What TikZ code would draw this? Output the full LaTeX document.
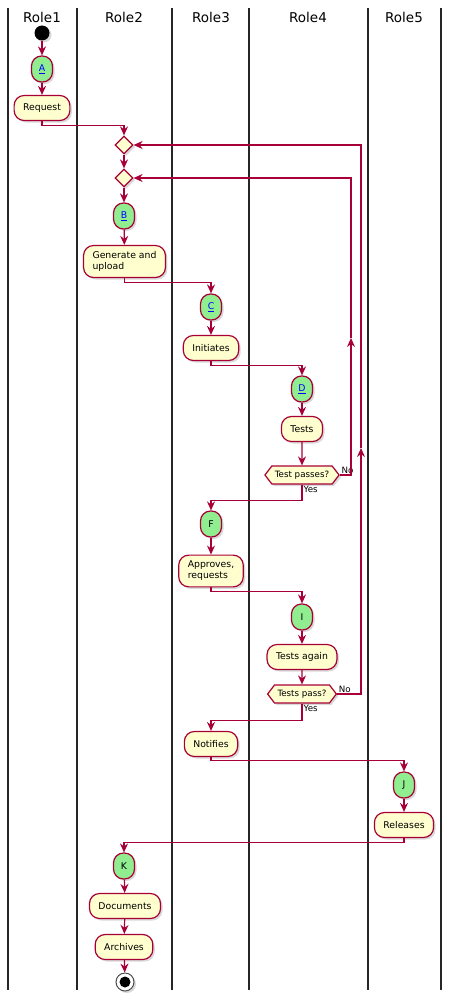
\documentclass[tikz,border=0pt]{standalone}
\usepackage{fontspec}
\setmainfont{DejaVu Sans}
\usetikzlibrary{arrows.meta,shapes.geometric,shapes.symbols,shadows}
\definecolor{umlred}{HTML}{A80036}
\definecolor{umlyellow}{HTML}{FEFECE}
\definecolor{umlgreen}{HTML}{90EE90}
\definecolor{umlblue}{HTML}{0000FF}

\begin{document}
\begin{tikzpicture}[x=1pt,y=-1pt,
		shade/.style={drop shadow={shadow xshift=2pt,shadow yshift=-2pt,opacity=0.3}},
		act/.style={draw=umlred,fill=umlyellow,line width=1.2pt,rounded corners=10pt,minimum height=25pt,inner xsep=9pt,inner ysep=6pt,align=left,font=\fontsize{9.3}{11}\selectfont,shade},
		ref/.style={act,fill=umlgreen,minimum width=21pt,minimum height=26pt,inner xsep=3pt},
		merge/.style={diamond,draw=umlred,fill=umlyellow,line width=1.2pt,minimum width=18pt,minimum height=18pt,inner sep=0pt,shade},
		test/.style={signal,signal to=west and east,signal pointer angle=105,draw=umlred,fill=umlyellow,line width=1.2pt,minimum height=18pt,inner xsep=3pt,inner ysep=1pt,font=\fontsize{8.7}{10}\selectfont,shade},
		flow/.style={draw=umlred,line width=1.2pt,-{Stealth[length=9pt,width=8pt,inset=3pt]}},
		lbl/.style={font=\fontsize{8.7}{10}\selectfont,inner sep=1.5pt},
		lane/.style={line width=1.6pt,black!85},
		head/.style={font=\fontsize{13.5}{15}\selectfont}]
				\useasboundingbox (0,0) rectangle (449,998);
				\foreach \x in {8,77,172,249,368,441}
					\draw[lane] (\x,8) -- (\x,990);
				
				\node[head] (hd1) at (42,17) {Role1};
				\node[head] (hd2) at (124,17) {Role2};
				\node[head] (hd3) at (211,17) {Role3};
				\node[head] (hd4) at (308,17) {Role4};
				\node[head] (hd5) at (404,17) {Role5};
				
				\node[circle,fill=black,minimum size=15pt,inner sep=0pt,shade] (start) at (42,33) {};
				\node[ref] (a) at (42,69) {\textcolor{umlblue}{\underline{A}}};
				\node[act] (req) at (42,108) {Request};
				
				\node[merge] (m1) at (124,145) {};
				\node[merge] (m2) at (124,178) {};
				\node[ref] (b) at (124,216) {\textcolor{umlblue}{\underline{B}}};
				\node[act] (gen) at (124.5,261.5) {Generate and\\upload};
				
				\node[ref] (c) at (211,307) {\textcolor{umlblue}{\underline{C}}};
				\node[act] (ini) at (211,348) {Initiates};
				
				\node[ref] (d) at (302,389) {\textcolor{umlblue}{\underline{D}}};
				\node[act] (tst) at (302,429) {Tests};
				\node[test] (tp1) at (302,475) {Test passes?};
				\node[lbl,anchor=south west] (no1) at (tp1.east) {No};
				\node[lbl,anchor=north west] (yes1) at (tp1.south) {Yes};
				
				\node[ref] (f) at (211,524) {F};
				\node[act] (apr) at (211,571) {Approves,\\requests};
				
				\node[ref] (i) at (302,617) {I};
				\node[act] (tag) at (302,657) {Tests again};
				\node[test] (tp2) at (302,694) {Tests pass?};
				\node[lbl,anchor=south west] (no2) at (tp2.east) {No};
				\node[lbl,anchor=north west] (yes2) at (tp2.south) {Yes};
				
				\node[act] (nfy) at (211,744) {Notifies};
				
				\node[ref] (j) at (404,785) {J};
				\node[act] (rel) at (404,825) {Releases};
				
				\node[ref] (k) at (124,866) {K};
				\node[act] (doc) at (125,906) {Documents};
				\node[act] (arc) at (124,947) {Archives};
				\node[circle,draw=black!70,fill=white,line width=1pt,minimum size=18pt,inner sep=0pt,shade] (stop) at (125,982) {};
				\fill[black] (stop.center) circle (5.5);
				
				% loop points
				\coordinate (up1) at (351,338);
				\coordinate (up2) at (361,448);
				
				\draw[flow] (start) -- (a);
				\draw[flow] (a) -- (req);
				\draw[flow] (req.south) -- ++(0,4) -| (m1.north);
				\draw[flow] (m1) -- (m2);
				\draw[flow] (m2) -- (b);
				\draw[flow] (b) -- (gen);
				\draw[flow] (gen.south) -- ++(0,4) -| (c.north);
				\draw[flow] (c) -- (ini);
				\draw[flow] (ini.south) -- ++(0,4) -| (d.north);
				\draw[flow] (d) -- (tst);
				\draw[flow] (tst) -- (tp1);
				\draw[flow] (tp1.east) -| (up1);
				\draw[flow] (up1) |- (m2.east);
				\draw[flow] (tp1.south) -- ++(0,16) -| (f.north);
				\draw[flow] (f) -- (apr);
				\draw[flow] (apr.south) -- ++(0,4) -| (i.north);
				\draw[flow] (i) -- (tag);
				\draw[flow] (tag) -- (tp2);
				\draw[flow] (tp2.east) -| (up2);
				\draw[flow] (up2) |- (m1.east);
				\draw[flow] (tp2.south) -- ++(0,17) -| (nfy.north);
				\draw[flow] (nfy.south) -- ++(0,3) -| (j.north);
				\draw[flow] (j) -- (rel);
				\draw[flow] (rel.south) -- ++(0,4) -| (k.north);
				\draw[flow] (k) -- (doc);
				\draw[flow] (doc) -- (arc);
				\draw[flow] (arc) -- (stop);
			\end{tikzpicture}
\end{document}
